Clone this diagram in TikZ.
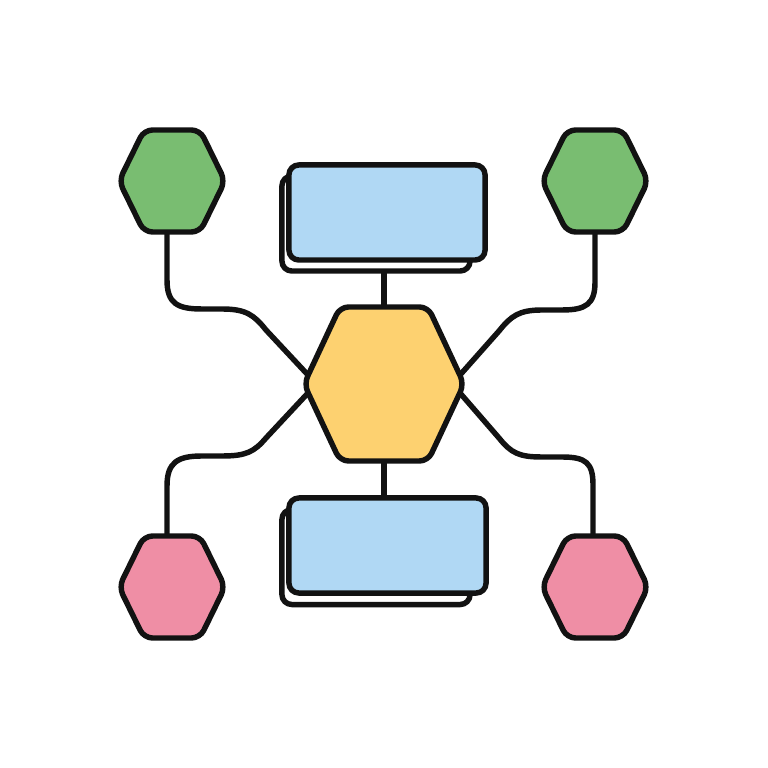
\documentclass[tikz,border=0pt]{standalone}
\usetikzlibrary{calc,backgrounds}
\definecolor{hexgreen}{RGB}{121,189,113}
\definecolor{hexpink}{RGB}{239,142,165}
\definecolor{hexyellow}{RGB}{253,209,112}
\definecolor{boxblue}{RGB}{176,216,244}
\definecolor{ink}{RGB}{18,18,18}
\tikzset{
  ln/.style={draw=ink, line width=1.55pt, line cap=round, line join=round},
  hexline/.style={ln, rounded corners=2.4pt},
  boxfront/.style={ln, fill=boxblue, rounded corners=2.8pt, inner sep=0pt, minimum height=0.95cm},
  boxback/.style={ln, fill=white, rounded corners=2.8pt, inner sep=0pt, minimum height=0.95cm},
}
\newcommand{\hexdraw}[7]{%
  \coordinate (#1) at (#2,#3);
  \filldraw[hexline, fill=#7, shift={(#2,#3)}] (-#4,0) -- (-#5,-#6) -- (#5,-#6) -- (#4,0) -- (#5,#6) -- (-#5,#6) -- cycle;
}
\begin{document}
\begin{tikzpicture}[x=0.01cm, y=-0.01cm]
\useasboundingbox (0,0) rectangle (768,768);

% boxes
\node[boxback, minimum width=1.88cm] (bt) at (376,223.5) {};
\node[boxfront, minimum width=1.96cm] (ft) at (387,212.5) {};
\node[boxback, minimum width=1.88cm] (bb) at (376,557) {};
\node[boxfront, minimum width=1.97cm] (fb) at (387.5,545.5) {};

% hexagons
\hexdraw{g1}{172}{181}{53}{28}{51}{hexgreen}
\hexdraw{g2}{595}{181}{53}{28}{51}{hexgreen}
\hexdraw{p1}{172}{587}{53}{28}{51}{hexpink}
\hexdraw{p2}{595}{587}{53}{28}{51}{hexpink}
\hexdraw{c}{384}{384}{80}{44}{77}{hexyellow}

\coordinate (cTL) at ($(c)+(-76,-9)$);
\coordinate (cTR) at ($(c)+(76,-9)$);
\coordinate (cBL) at ($(c)+(-76,9)$);
\coordinate (cBR) at ($(c)+(76,9)$);

\begin{pgfonlayer}{background}
  \fill[white] (0,0) rectangle (768,768);
  \draw[ln] (bt.south -| c) -- (c);
  \draw[ln] (c) -- (fb.north -| c);
  % top left
  \draw[ln] ($(g1)+(-5,0)$) -- (167,280) .. controls (167,304) and (178,309) .. (202,309)
     -- (222,309) .. controls (246,309) and (254,315) .. (266,330) -- (cTL);
  % top right
  \draw[ln] (g2) -- (595,282) .. controls (595,304) and (586,310) .. (562,310)
     -- (542,310) .. controls (519,310) and (511,316) .. (499,331) -- (cTR);
  % bottom left
  \draw[ln] (cBL) -- (266,438) .. controls (254,452) and (246,456) .. (222,456)
     -- (202,456) .. controls (178,456) and (167,462) .. (167,486) -- ($(p1)+(-5,0)$);
  % bottom right
  \draw[ln] (cBR) -- (499,438) .. controls (511,453) and (519,457) .. (542,457)
     -- (562,457) .. controls (586,457) and (593,463) .. (593,485) -- ($(p2)+(-2,0)$);
\end{pgfonlayer}
\end{tikzpicture}
\end{document}
